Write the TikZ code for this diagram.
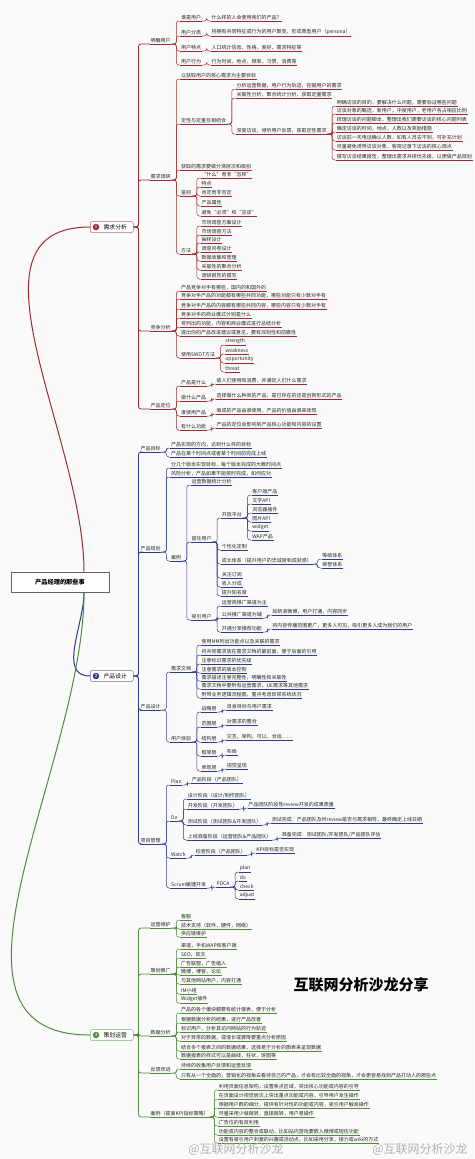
\documentclass[tikz,border=0pt]{standalone}
\usepackage{fontspec}
\newfontfamily\cjk{Noto Sans CJK SC}
\definecolor{xqred}{HTML}{9E2A2F}
\definecolor{cpblue}{HTML}{2E3B8C}
\definecolor{chgreen}{HTML}{4C8C3A}
\colorlet{brc}{black}
\tikzset{
  leaf/.style={anchor=south west, xshift=9pt, inner xsep=0.5pt, inner ysep=0.8pt,
    font=\cjk\fontsize{5}{6}\selectfont, text=black!85,
    append after command={(\tikzlastnode.south west) edge[draw=brc, line width=0.45pt] (\tikzlastnode.south east)}},
  link/.style={draw=brc, line width=0.5pt, rounded corners=2.5pt,
    to path={-- ++(5pt,0) |- (\tikztotarget)}},
  mainlink/.style={link, line width=0.8pt},
  topic/.style={anchor=west, draw=brc!70, fill=white, line width=0.5pt, rounded corners=2pt,
    minimum width=43pt, minimum height=11pt, inner xsep=2pt, inner ysep=1pt,
    font=\cjk\fontsize{5.8}{6.5}\selectfont, text=black},
  badge/.style={circle, inner sep=0pt, minimum size=6.5pt, text=white,
    font=\sffamily\bfseries\fontsize{4.5}{5}\selectfont},
  rootbox/.style={draw=black!60, fill=white, line width=0.6pt, minimum width=98pt,
    minimum height=20pt, font=\cjk\bfseries\fontsize{6.2}{7}\selectfont,
    drop shadow={shadow xshift=1pt, shadow yshift=-1pt, opacity=0.25}},
  trunk/.style={line width=1pt}
}
\usetikzlibrary{shadows}
\begin{document}
\begin{tikzpicture}[x=1pt, y=-1pt]
\useasboundingbox[fill=black!2] (0,0) rectangle (474,1159);

\node[rootbox] (root) at (60,582) {产品经理的那些事};

% 需求分析
\begin{scope}
\colorlet{brc}{xqred}
\node[topic] (xq) at (90,227) {\hspace{7pt}需求分析};
\node[badge, fill=xqred] (xqi) at ([xshift=6pt]xq.west) {1};
\node[leaf] (users) at (141,44) {明确用户};
\node[leaf] (who) at (users.south east |- 0,21) {谁是用户};
\node[leaf] (whoA) at (who.south east |- 0,21) {什么样的人会使用我们的产品？};
\node[leaf] (kind) at (users.south east |- 0,36) {用户分类};
\node[leaf] (kindA) at (kind.south east |- 0,36) {将拥有共同特征或行为的用户聚类，形成典型用户（persona）};
\node[leaf] (trait) at (users.south east |- 0,51) {用户特点};
\node[leaf] (traitA) at (trait.south east |- 0,51) {人口统计信息，性格，爱好，需求特征等};
\node[leaf] (habit) at (users.south east |- 0,65) {用户行为};
\node[leaf] (habitA) at (habit.south east |- 0,65) {行为时间，地点，频率，习惯，消费等};

\node[leaf] (survey) at (141,180) {需求调研};
\node[leaf] (goal) at (survey.south east |- 0,79) {以获取用户的核心需求为主要目标};
\node[leaf] (mix) at (survey.south east |- 0,124) {定性与定量互相结合};
\node[leaf] (quant1) at (mix.south east |- 0,89) {分析运营数据，用户行为轨迹，挖掘用户的需求};
\node[leaf] (quant2) at (mix.south east |- 0,98) {关联性分析，聚合统计分析，获取定量需求};
\node[leaf] (talk) at (mix.south east |- 0,134) {深度访谈，倾听用户反馈，获取定性需求};
\node[leaf] (talk1) at (talk.south east |- 0,106) {明确访谈的目的，要解决什么问题，需要验证哪些问题};
\node[leaf] (talk2) at (talk.south east |- 0,114) {访谈对象的甄选，新用户，中度用户，老用户各占相应比例};
\node[leaf] (talk3) at (talk.south east |- 0,123) {梳理访谈的问题脚本，整理出我们需要访谈的核心问题列表};
\node[leaf] (talk4) at (talk.south east |- 0,132) {确定访谈的时间，地点，人数以及奖励措施};
\node[leaf] (talk5) at (talk.south east |- 0,141) {访谈前一天电话确认人数，如有人员去不到，可补充计划};
\node[leaf] (talk6) at (talk.south east |- 0,150) {尽量避免诱导访谈对象，客观记录下访谈的核心观点};
\node[leaf] (talk7) at (talk.south east |- 0,160) {撰写访谈结果报告，整理出需求并排优先级，以便做产品规划};
\node[leaf] (level) at (survey.south east |- 0,170) {获取的需求要做分清层次和级别};
\node[leaf] (judge) at (survey.south east |- 0,196) {鉴别};
\node[leaf] (judge1) at (judge.south east |- 0,178) {“什么”而非“怎样”};
\node[leaf] (judge2) at (judge.south east |- 0,187) {特点};
\node[leaf] (judge3) at (judge.south east |- 0,196) {肯定而非否定};
\node[leaf] (judge4) at (judge.south east |- 0,206) {产品属性};
\node[leaf] (judge5) at (judge.south east |- 0,216) {避免“必须”和“应该”};
\node[leaf] (method) at (survey.south east |- 0,254) {方法};
\node[leaf] (method1) at (method.south east |- 0,226) {市场调查方案设计};
\node[leaf] (method2) at (method.south east |- 0,235) {市场调查方法};
\node[leaf] (method3) at (method.south east |- 0,243) {抽样设计};
\node[leaf] (method4) at (method.south east |- 0,252) {调查问卷设计};
\node[leaf] (method5) at (method.south east |- 0,261) {数据收集和管理};
\node[leaf] (method6) at (method.south east |- 0,270) {关联性的聚合分析};
\node[leaf] (method7) at (method.south east |- 0,279) {调研报告的撰写};

\node[leaf] (compete) at (141,331) {竞争分析};
\node[leaf] (comp1) at (compete.south east |- 0,291) {产品竞争对手有哪些，国内的和国外的};
\node[leaf] (comp2) at (compete.south east |- 0,299) {竞争对手产品的功能都有哪些共同功能，哪些功能只有少数对手有};
\node[leaf] (comp3) at (compete.south east |- 0,309) {竞争对手产品的内容都有哪些共同内容，哪些内容只有少数对手有};
\node[leaf] (comp4) at (compete.south east |- 0,318) {竞争对手的商业模式分别是什么};
\node[leaf] (comp5) at (compete.south east |- 0,327) {将列出的功能，内容和商业模式进行总结分析};
\node[leaf] (comp6) at (compete.south east |- 0,336) {提出你的产品改进建议或意见，要有深刻性和前瞻性};
\node[leaf] (swot) at (compete.south east |- 0,358) {使用SWOT方法};
\node[leaf] (swot1) at (swot.south east |- 0,345) {strength};
\node[leaf] (swot2) at (swot.south east |- 0,354) {weakness};
\node[leaf] (swot3) at (swot.south east |- 0,363) {opportunity};
\node[leaf] (swot4) at (swot.south east |- 0,372) {threat};

\node[leaf] (position) at (141,409) {产品定位};
\node[leaf] (what) at (position.south east |- 0,386) {产品是什么};
\node[leaf] (whatA) at (what.south east |- 0,384) {被人们使用和消费，并满足人们什么需求};
\node[leaf] (make) at (position.south east |- 0,401) {做什么产品};
\node[leaf] (makeA) at (make.south east |- 0,399) {选择做什么种类的产品，是已存在的还是创新形式的产品};
\node[leaf] (usedby) at (position.south east |- 0,416) {谁使用产品};
\node[leaf] (usedbyA) at (usedby.south east |- 0,414) {做成的产品由谁使用，产品的价值由谁来体现};
\node[leaf] (func) at (position.south east |- 0,430) {有什么功能};
\node[leaf] (funcA) at (func.south east |- 0,428) {产品的定位会影响到产品核心功能和内容的设置};

\path[mainlink] (xq.east) edge (users.south west) edge (survey.south west)
  edge (compete.south west) edge (position.south west);
\path[link] (users.south east) edge (who.south west) edge (kind.south west)
  edge (trait.south west) edge (habit.south west);
\path[link] (who.south east) edge (whoA.south west);
\path[link] (kind.south east) edge (kindA.south west);
\path[link] (trait.south east) edge (traitA.south west);
\path[link] (habit.south east) edge (habitA.south west);
\path[link] (survey.south east) edge (goal.south west) edge (mix.south west)
  edge (level.south west) edge (judge.south west) edge (method.south west);
\path[link] (mix.south east) edge (quant1.south west) edge (quant2.south west) edge (talk.south west);
\path[link] (talk.south east) edge (talk1.south west) edge (talk2.south west) edge (talk3.south west)
  edge (talk4.south west) edge (talk5.south west) edge (talk6.south west) edge (talk7.south west);
\path[link] (judge.south east) edge (judge1.south west) edge (judge2.south west) edge (judge3.south west)
  edge (judge4.south west) edge (judge5.south west);
\path[link] (method.south east) edge (method1.south west) edge (method2.south west) edge (method3.south west)
  edge (method4.south west) edge (method5.south west) edge (method6.south west) edge (method7.south west);
\path[link] (compete.south east) edge (comp1.south west) edge (comp2.south west) edge (comp3.south west)
  edge (comp4.south west) edge (comp5.south west) edge (comp6.south west) edge (swot.south west);
\path[link] (swot.south east) edge (swot1.south west) edge (swot2.south west) edge (swot3.south west)
  edge (swot4.south west);
\path[link] (position.south east) edge (what.south west) edge (make.south west)
  edge (usedby.south west) edge (func.south west);
\path[link] (what.south east) edge (whatA.south west);
\path[link] (make.south east) edge (makeA.south west);
\path[link] (usedby.south east) edge (usedbyA.south west);
\path[link] (func.south east) edge (funcA.south west);
\draw[xqred, trunk] ([xshift=24pt]root.north) to[out=90, in=180] (xq.west);
\end{scope}

% 产品设计
\begin{scope}
\colorlet{brc}{cpblue}
\node[topic] (cp) at (90,676) {\hspace{7pt}产品设计};
\node[badge, fill=cpblue] (cpi) at ([xshift=6pt]cp.west) {2};
\node[leaf] (target) at (131,452) {产品目标};
\node[leaf] (target1) at (target.south east |- 0,448) {产品实现的方向，达到什么样的目标};
\node[leaf] (target2) at (target.south east |- 0,457) {产品在某个时间点或者某个时间前完成上线};
\node[leaf] (plan) at (131,552) {产品规划};
\node[leaf] (plan1) at (plan.south east |- 0,468) {分几个版本实现目标，每个版本完成的大概时间点};
\node[leaf] (plan2) at (plan.south east |- 0,477) {风险分析，产品如果不能按时完成，如何应对};
\node[leaf] (case) at (plan.south east |- 0,561) {案例};
\node[leaf] (stat) at (case.south east |- 0,485) {运营数据统计分析};
\node[leaf] (keep) at (case.south east |- 0,542) {留住用户};
\node[leaf] (open) at (keep.south east |- 0,518) {开放平台};
\node[leaf] (open1) at (open.south east |- 0,495) {客户端产品};
\node[leaf] (open2) at (open.south east |- 0,504) {文字API};
\node[leaf] (open3) at (open.south east |- 0,513) {浏览器插件};
\node[leaf] (open4) at (open.south east |- 0,522) {图片API};
\node[leaf] (open5) at (open.south east |- 0,531) {widget};
\node[leaf] (open6) at (open.south east |- 0,540) {WAP产品};
\node[leaf] (custom) at (keep.south east |- 0,550) {个性化定制};
\node[leaf] (grow) at (keep.south east |- 0,564) {成长体系（提升用户的忠诚度和成就感）};
\node[leaf] (grow1) at (grow.south east |- 0,559) {等级体系};
\node[leaf] (grow2) at (grow.south east |- 0,568) {荣誉体系};
\node[leaf] (follow) at (keep.south east |- 0,578) {关注订阅};
\node[leaf] (share) at (keep.south east |- 0,587) {收入分成};
\node[leaf] (fame) at (keep.south east |- 0,596) {提升知名度};
\node[leaf] (attract) at (case.south east |- 0,620) {吸引用户};
\node[leaf] (channel1) at (attract.south east |- 0,606) {运营商推广渠道为主};
\node[leaf] (channel2) at (attract.south east |- 0,618) {公共推广渠道为辅};
\node[leaf] (channel2A) at (channel2.south east |- 0,615) {如新浪微博，用户打通，内容同步};
\node[leaf] (spread) at (attract.south east |- 0,632) {开通分享推荐功能};
\node[leaf] (spreadA) at (spread.south east |- 0,629) {将内容传播范围更广，更多人可见，吸引更多人成为我们的用户};
\node[leaf] (design) at (131,710) {产品设计};
\node[leaf] (doc) at (design.south east |- 0,672) {需求文档};
\node[leaf] (doc1) at (doc.south east |- 0,645) {使用MM列出功能点以及关联的需求};
\node[leaf] (doc2) at (doc.south east |- 0,655) {将共同需求放在需求文档的最前面，便于后面的引用};
\node[leaf] (doc3) at (doc.south east |- 0,664) {注意标识需求的优先级};
\node[leaf] (doc4) at (doc.south east |- 0,673) {注意需求的版本控制};
\node[leaf] (doc5) at (doc.south east |- 0,681) {需求描述注意完整性，明确性和关联性};
\node[leaf] (doc6) at (doc.south east |- 0,689) {需求文档中要附有运营需求，UE需求等其他需求};
\node[leaf] (doc7) at (doc.south east |- 0,698) {附带业务逻辑流程图，重点考虑异常系统状况};
\node[leaf] (ux) at (design.south east |- 0,742) {用户体验};
\node[leaf] (ux1) at (ux.south east |- 0,712) {战略层};
\node[leaf] (ux1A) at (ux1.south east |- 0,710) {自身目标与用户需求};
\node[leaf] (ux2) at (ux.south east |- 0,727) {范围层};
\node[leaf] (ux2A) at (ux2.south east |- 0,725) {对需求的整合};
\node[leaf] (ux3) at (ux.south east |- 0,742) {结构层};
\node[leaf] (ux3A) at (ux3.south east |- 0,740) {交互，架构，可以，合适……};
\node[leaf] (ux4) at (ux.south east |- 0,756) {框架层};
\node[leaf] (ux4A) at (ux4.south east |- 0,755) {布局};
\node[leaf] (ux5) at (ux.south east |- 0,771) {表现层};
\node[leaf] (ux5A) at (ux5.south east |- 0,769) {视觉呈现};
\node[leaf] (project) at (131,844) {项目管理};
\node[leaf] (pplan) at (project.south east |- 0,785) {Plan};
\node[leaf] (pplanA) at (pplan.south east |- 0,783) {产品阶段（产品团队）};
\node[leaf] (pdo) at (project.south east |- 0,821) {Do};
\node[leaf] (pdo1) at (pdo.south east |- 0,799) {设计阶段（设计/制作团队）};
\node[leaf] (pdo2) at (pdo.south east |- 0,809) {开发阶段（开发团队）};
\node[leaf] (pdo2A) at (pdo2.south east |- 0,808) {产品团队阶段性review开发的成果质量};
\node[leaf] (pdo3) at (pdo.south east |- 0,825) {测试阶段（测试团队\&开发团队）};
\node[leaf] (pdo3A) at (pdo3.south east |- 0,823) {测试完成：产品团队及时review是否与需求相符，最终确定上线日期};
\node[leaf] (pdo4) at (pdo.south east |- 0,840) {上线准备阶段（运营团队\&产品团队）};
\node[leaf] (pdo4A) at (pdo4.south east |- 0,838) {准备完成：测试团队/开发团队/产品团队评估};
\node[leaf] (watch) at (project.south east |- 0,858) {Watch};
\node[leaf] (watchA) at (watch.south east |- 0,855) {检查阶段（产品团队）};
\node[leaf] (watchB) at (watchA.south east |- 0,853) {KPI目标是否实现};
\node[leaf] (scrum) at (project.south east |- 0,888) {Scrum敏捷开发};
\node[leaf] (pdca) at (scrum.south east |- 0,887) {PDCA};
\node[leaf] (pdca1) at (pdca.south east |- 0,872) {plan};
\node[leaf] (pdca2) at (pdca.south east |- 0,881) {do};
\node[leaf] (pdca3) at (pdca.south east |- 0,890) {check};
\node[leaf] (pdca4) at (pdca.south east |- 0,899) {adjust};

\path[mainlink] (cp.east) edge (target.south west) edge (plan.south west)
  edge (design.south west) edge (project.south west);
\path[link] (target.south east) edge (target1.south west) edge (target2.south west);
\path[link] (plan.south east) edge (plan1.south west) edge (plan2.south west) edge (case.south west);
\path[link] (case.south east) edge (stat.south west) edge (keep.south west) edge (attract.south west);
\path[link] (keep.south east) edge (open.south west) edge (custom.south west) edge (grow.south west)
  edge (follow.south west) edge (share.south west) edge (fame.south west);
\path[link] (open.south east) edge (open1.south west) edge (open2.south west) edge (open3.south west)
  edge (open4.south west) edge (open5.south west) edge (open6.south west);
\path[link] (grow.south east) edge (grow1.south west) edge (grow2.south west);
\path[link] (attract.south east) edge (channel1.south west) edge (channel2.south west) edge (spread.south west);
\path[link] (channel2.south east) edge (channel2A.south west);
\path[link] (spread.south east) edge (spreadA.south west);
\path[link] (design.south east) edge (doc.south west) edge (ux.south west);
\path[link] (doc.south east) edge (doc1.south west) edge (doc2.south west) edge (doc3.south west)
  edge (doc4.south west) edge (doc5.south west) edge (doc6.south west) edge (doc7.south west);
\path[link] (ux.south east) edge (ux1.south west) edge (ux2.south west) edge (ux3.south west)
  edge (ux4.south west) edge (ux5.south west);
\path[link] (ux1.south east) edge (ux1A.south west);
\path[link] (ux2.south east) edge (ux2A.south west);
\path[link] (ux3.south east) edge (ux3A.south west);
\path[link] (ux4.south east) edge (ux4A.south west);
\path[link] (ux5.south east) edge (ux5A.south west);
\path[link] (project.south east) edge (pplan.south west) edge (pdo.south west)
  edge (watch.south west) edge (scrum.south west);
\path[link] (pplan.south east) edge (pplanA.south west);
\path[link] (pdo.south east) edge (pdo1.south west) edge (pdo2.south west) edge (pdo3.south west)
  edge (pdo4.south west);
\path[link] (pdo2.south east) edge (pdo2A.south west);
\path[link] (pdo3.south east) edge (pdo3A.south west);
\path[link] (pdo4.south east) edge (pdo4A.south west);
\path[link] (watch.south east) edge (watchA.south west);
\path[link] (watchA.south east) edge (watchB.south west);
\path[link] (scrum.south east) edge (pdca.south west);
\path[link] (pdca.south east) edge (pdca1.south west) edge (pdca2.south west) edge (pdca3.south west)
  edge (pdca4.south west);
\draw[cpblue, trunk] ([xshift=24pt]root.south) to[out=-90, in=180] (cp.west);
\end{scope}

% 策划运营
\begin{scope}
\colorlet{brc}{chgreen}
\node[topic] (ch) at (90,1035) {\hspace{7pt}策划运营};
\node[badge, fill=chgreen] (chi) at ([xshift=6pt]ch.west) {3};
\node[leaf] (ops) at (141,928) {运营维护};
\node[leaf] (ops1) at (ops.south east |- 0,920) {客服};
\node[leaf] (ops2) at (ops.south east |- 0,929) {技术支持（软件，硬件，网络）};
\node[leaf] (ops3) at (ops.south east |- 0,937) {供应链维护};
\node[leaf] (promo) at (141,974) {策划推广};
\node[leaf] (promo1) at (promo.south east |- 0,949) {渠道，手机WAP和客户端};
\node[leaf] (promo2) at (promo.south east |- 0,958) {SEO，软文};
\node[leaf] (promo3) at (promo.south east |- 0,967) {广告联盟，广告植入};
\node[leaf] (promo4) at (promo.south east |- 0,975) {微博，博客，论坛};
\node[leaf] (promo5) at (promo.south east |- 0,984) {与其他网站用户，内容打通};
\node[leaf] (promo6) at (promo.south east |- 0,994) {IM小组};
\node[leaf] (promo7) at (promo.south east |- 0,1003) {Widget插件};
\node[leaf] (data) at (141,1036) {数据分析};
\node[leaf] (data1) at (data.south east |- 0,1013) {产品的各个模块都要有统计报表，便于分析};
\node[leaf] (data2) at (data.south east |- 0,1023) {根据数据分析的结果，进行产品改善};
\node[leaf] (data3) at (data.south east |- 0,1032) {标识用户，分析其访问网站的行为轨迹};
\node[leaf] (data4) at (data.south east |- 0,1041) {对于异常的数据，或增长或骤降要重点分析原因};
\node[leaf] (data5) at (data.south east |- 0,1051) {结合多个报表之间的数据结果，选择易于分析的图表来呈现数据};
\node[leaf] (data6) at (data.south east |- 0,1059) {数据报表的样式可以是曲线，柱状，饼图等};
\node[leaf] (back) at (141,1073) {反馈改进};
\node[leaf] (back1) at (back.south east |- 0,1069) {持续的收集用户反馈和运营反馈};
\node[leaf] (back2) at (back.south east |- 0,1079) {只有从一个全面的，营销化的视角去看待自己的产品，才会有比较全面的视角，才会更容易找到产品打动人的那些点};
\node[leaf] (kpi) at (141,1117) {案例（提高KPI指标策略）};
\node[leaf] (kpi1) at (kpi.south east |- 0,1090) {利用页面信息架构，设置焦点区域，突出核心功能或内容的引导};
\node[leaf] (kpi2) at (kpi.south east |- 0,1099) {在页面设计视觉层次上突出重点功能或内容，引导用户发生操作};
\node[leaf] (kpi3) at (kpi.south east |- 0,1108) {根据用户群的细分，提供有针对性的功能或内容，吸引用户触发操作};
\node[leaf] (kpi4) at (kpi.south east |- 0,1117) {尽量采用少做跳转，直接跳转，用户易操作};
\node[leaf] (kpi5) at (kpi.south east |- 0,1126) {广告位的有效利用};
\node[leaf] (kpi6) at (kpi.south east |- 0,1135) {功能或内容的整合或联动，比如站内游戏要嵌入微博或短信功能};
\node[leaf] (kpi7) at (kpi.south east |- 0,1143) {设置有吸引用户刺激的兴趣或活动点，比如采用分享，接力或wiki的方式};

\path[mainlink] (ch.east) edge (ops.south west) edge (promo.south west)
  edge (data.south west) edge (back.south west) edge (kpi.south west);
\path[link] (ops.south east) edge (ops1.south west) edge (ops2.south west) edge (ops3.south west);
\path[link] (promo.south east) edge (promo1.south west) edge (promo2.south west) edge (promo3.south west)
  edge (promo4.south west) edge (promo5.south west) edge (promo6.south west) edge (promo7.south west);
\path[link] (data.south east) edge (data1.south west) edge (data2.south west) edge (data3.south west)
  edge (data4.south west) edge (data5.south west) edge (data6.south west);
\path[link] (back.south east) edge (back1.south west) edge (back2.south west);
\path[link] (kpi.south east) edge (kpi1.south west) edge (kpi2.south west) edge (kpi3.south west)
  edge (kpi4.south west) edge (kpi5.south west) edge (kpi6.south west) edge (kpi7.south west);
\draw[chgreen, trunk] ([xshift=24pt]root.south) to[out=-90, in=180] (ch.west);
\end{scope}

\node[font=\cjk\bfseries\fontsize{15}{16}\selectfont] (salon) at (361,985) {互联网分析沙龙分享};
\node[font=\cjk\fontsize{12}{13}\selectfont, text=black!30] (mark1) at (236,1149) {@互联网分析沙龙};
\node[font=\cjk\fontsize{12}{13}\selectfont, text=black!30] (mark2) at (420,1149) {@互联网分析沙龙};
\end{tikzpicture}
\end{document}
